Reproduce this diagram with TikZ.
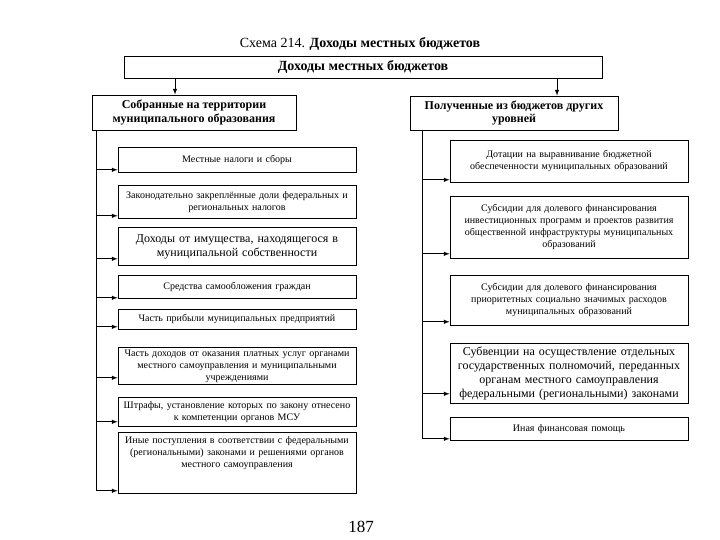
\documentclass[tikz,border=0pt]{standalone}
\usepackage{fontspec}
\setmainfont{Liberation Serif}
\usetikzlibrary{arrows}
\usetikzlibrary{calc}

\begin{document}
\begin{tikzpicture}[
  x=1pt, y=-1pt,
  box/.style={draw, line width=0.8pt, inner xsep=1pt, inner ysep=2pt, align=center},
  hdr/.style={box, font=\fontsize{12}{13.5}\selectfont\bfseries},
  item/.style={box, text width=236pt, anchor=north, font=\fontsize{10}{12}\selectfont},
  bigitem/.style={item, font=\fontsize{12}{14}\selectfont},
  arr/.style={-latex, line width=1pt},
  trunk/.style={line width=0.8pt},
]
\useasboundingbox (0,0) rectangle (720,540);

\node (title) at (360,44) {\fontsize{14}{16}\selectfont Схема 214. \textbf{Доходы местных бюджетов}};
\node [box, minimum width=478pt, minimum height=22pt, font=\fontsize{14}{16}\selectfont\bfseries] (top) at (363,67) {Доходы местных бюджетов};

\node [hdr, minimum width=204pt, minimum height=35pt] (lhead) at (194,112.5) {Собранные на территории\\муниципального образования};
\node [hdr, minimum width=208pt, minimum height=34pt] (rhead) at (514,113) {Полученные из бюджетов других\\уровней};

\coordinate (lx) at (175,0);
\coordinate (rx) at (557,0);
\draw [arr] (top.south -| lx) -- (lhead.north -| lx);
\draw [arr] (top.south -| rx) -- (rhead.north -| rx);

\node [item, minimum height=25pt] (l1) at (237,147) {Местные налоги и сборы};
\node [item, minimum height=33pt] (l2) at (237,185) {Законодательно закреплённые доли федеральных и\\региональных налогов};
\node [bigitem, minimum height=38pt] (l3) at (237,227) {Доходы от имущества, находящегося в\\муниципальной собственности};
\node [item, minimum height=23pt] (l4) at (237,275) {Средства самообложения граждан};
\node [item, minimum height=20pt] (l5) at (237,309) {Часть прибыли муниципальных предприятий};
\node [item, minimum height=37pt] (l6) at (237,347) {Часть доходов от оказания платных услуг органами\\местного самоуправления и муниципальными\\учреждениями};
\node [item, minimum height=29pt] (l7) at (237,397) {Штрафы, установление которых по закону отнесено\\к компетенции органов МСУ};
\node [item, minimum height=61pt] (l8) at (237,432) {Иные поступления в соответствии с федеральными\\(региональными) законами и решениями органов\\местного самоуправления\rule[-22pt]{0pt}{22pt}};

\node [item, minimum height=42pt] (r1) at (569,140) {Дотации на выравнивание бюджетной\\обеспеченности муниципальных образований};
\node [item, minimum height=62pt] (r2) at (569,196) {Субсидии для долевого финансирования\\инвестиционных программ и проектов развития\\общественной инфраструктуры муниципальных\\образований};
\node [item, minimum height=50pt] (r3) at (569,275) {Субсидии для долевого финансирования\\приоритетных социально значимых расходов\\муниципальных образований};
\node [bigitem, minimum height=60pt] (r4) at (569,343) {Субвенции на осуществление отдельных\\государственных полномочий, переданных\\органам местного самоуправления\\федеральными (региональными) законами};
\node [item, minimum height=23pt] (r5) at (569,417) {Иная финансовая помощь};

\coordinate (lt) at (96,0);
\coordinate (rt) at (422,0);
\draw [trunk] (lhead.south -| lt) -- ($(l8.south west -| lt)+(0,-3)$);
\draw [trunk] (rhead.south -| rt) -- ($(r5.south west -| rt)+(0,-2)$);

\foreach \n/\d in {l1/3,l2/3,l3/7,l4/1,l5/3,l6/7,l7/5,l8/3}
  \draw [arr] ($(\n.south west -| lt)+(0,-\d)$) -- ($(\n.south west)+(0,-\d)$);
\foreach \n/\d in {r1/3,r2/5,r3/4,r4/10,r5/2}
  \draw [arr] ($(\n.south west -| rt)+(0,-\d)$) -- ($(\n.south west)+(0,-\d)$);

\node (page) at (361,527) {\fontsize{17}{20}\selectfont 187};

\end{tikzpicture}
\end{document}
